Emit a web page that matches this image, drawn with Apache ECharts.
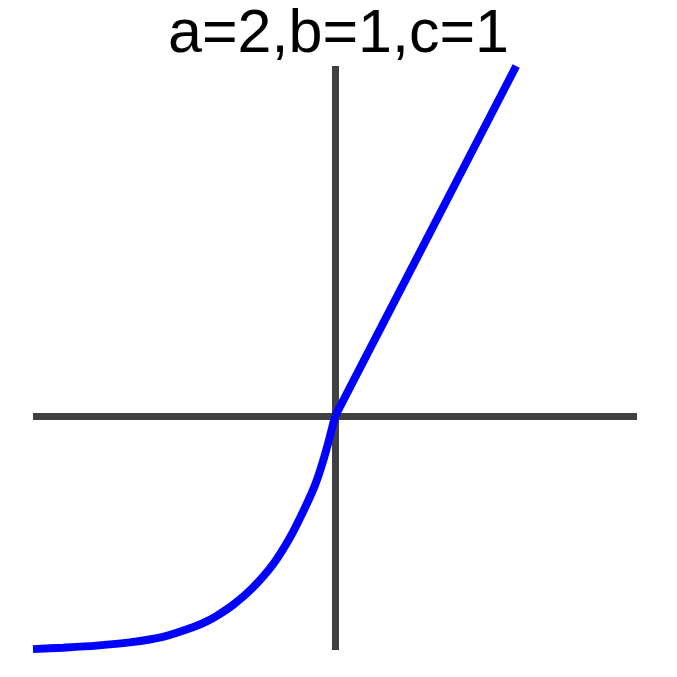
<!DOCTYPE html>
<html>
<head>
<meta charset="utf-8">
<script src="https://cdn.jsdelivr.net/npm/echarts@6/dist/echarts.min.js"></script>
<style>
html, body { margin: 0; padding: 0; background: #fff; }
#main { width: 677px; height: 677px; }
</style>
</head>
<body>
<div id="main"></div>
<script>
// points
var negX = [-10, -9, -7.9, -6.8, -5.7, -4.6, -4.25, -3.9, -3.37, -2.71, -2.04, -1.49, -1.05, -0.66, -0.33, 0];
var negY = [-7.97, -7.92, -7.85, -7.74, -7.55, -7.18, -7.02, -6.82, -6.45, -5.85, -5.05, -4.15, -3.25, -2.35, -1.3, 0];
var posX = [0, 6];
var posY = [0, 12];
var titleText = 'a=2,b=1,c=1';

function pairs(xs, ys) {
    var out = [];
    for (var i = 0; i < xs.length; i++) out.push([xs[i], ys[i]]);
    return out;
}

var chart = echarts.init(document.getElementById('main'));
var option = {
    animation: false,
    title: {
        text: titleText,
        left: 'center',
        top: 0,
        textStyle: { fontFamily: 'Liberation Sans', fontSize: 61, fontWeight: 'normal', color: '#000' }
    },
    grid: { left: 33, right: 40, top: 66, bottom: 27 },
    xAxis: {
        type: 'value', min: -10, max: 10,
        axisLine: { onZero: true, lineStyle: { color: '#404040', width: 7, cap: 'butt' } },
        axisTick: { show: false }, axisLabel: { show: false }, splitLine: { show: false }
    },
    yAxis: {
        type: 'value', min: -8, max: 12,
        axisLine: { show: true, onZero: true, lineStyle: { color: '#404040', width: 7, cap: 'butt' } },
        axisTick: { show: false }, axisLabel: { show: false }, splitLine: { show: false }
    },
    series: [
        {
            type: 'line', data: pairs(negX, negY), smooth: 0.3, symbol: 'none',
            lineStyle: { color: '#0000ff', width: 8, cap: 'butt' }
        },
        {
            type: 'line', data: pairs(posX, posY), symbol: 'none',
            lineStyle: { color: '#0000ff', width: 8, cap: 'butt' }
        }
    ]
};
chart.setOption(option);
</script>
</body>
</html>
